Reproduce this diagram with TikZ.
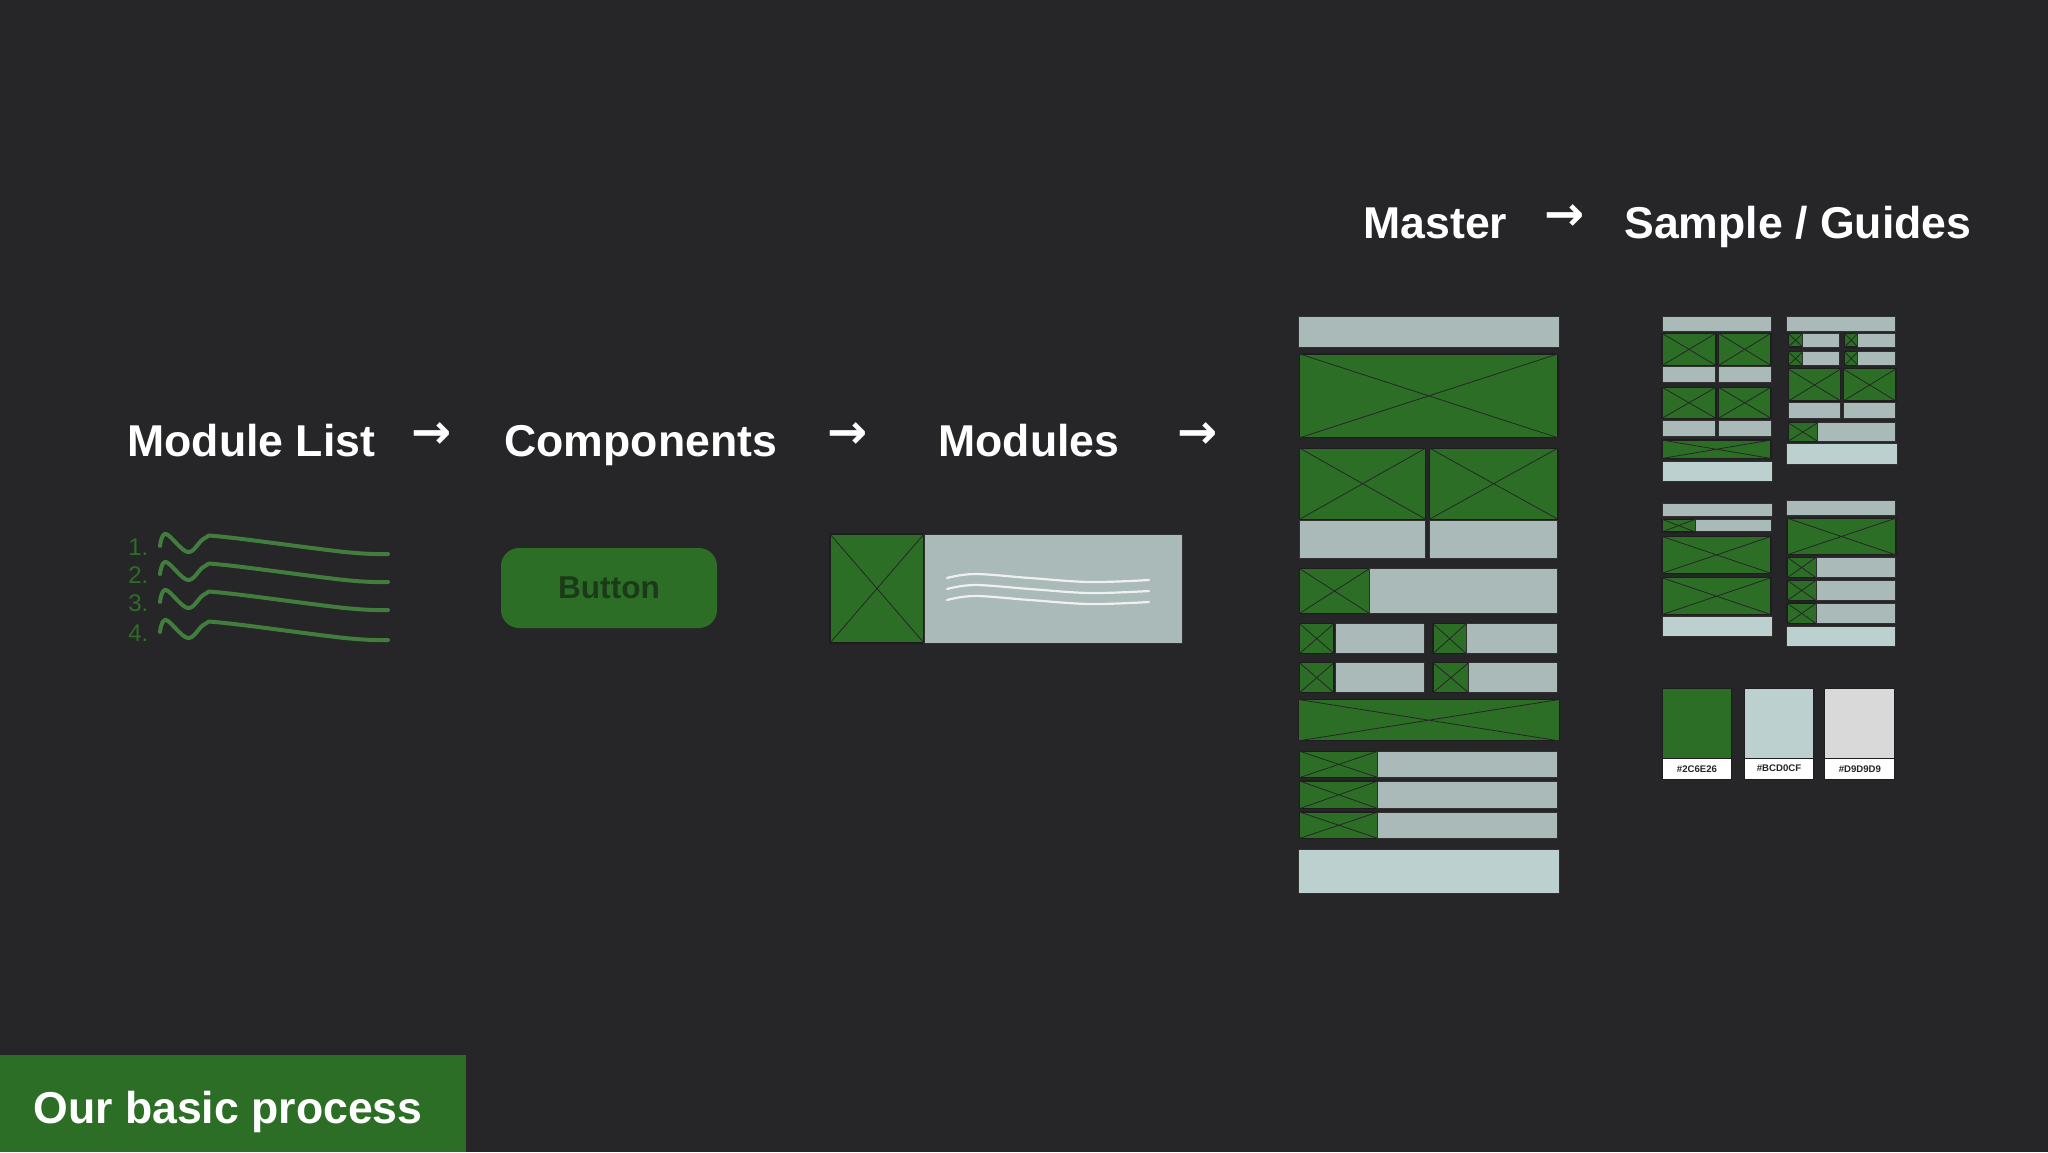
\documentclass[tikz,border=0pt]{standalone}
\usepackage{fontspec}
\setmainfont{Liberation Sans}
\newfontfamily\arrowfont{DejaVu Sans}
\definecolor{bg}{HTML}{262628}
\definecolor{grn}{HTML}{2C6E26}
\definecolor{gry}{HTML}{A9BAB8}
\definecolor{lgt}{HTML}{BCD0CF}
\definecolor{lgr}{HTML}{D9D9D9}
\definecolor{edge}{HTML}{1E1E1E}
\definecolor{btxt}{HTML}{1C3A19}
\newcommand{\myX}[4]{\draw[xs] (#1,#2) rectangle (#3,#4); \draw[xl] (#1,#2)--(#3,#4) (#1,#4)--(#3,#2);}
\newcommand{\myG}[4]{\draw[gs] (#1,#2) rectangle (#3,#4);}
\newcommand{\myL}[4]{\draw[ls] (#1,#2) rectangle (#3,#4);}
\begin{document}
\begin{tikzpicture}[x=0.5pt,y=-0.5pt,
  xs/.style={fill=grn,draw=edge,line width=0.6pt},
  xl/.style={draw=black!85,line width=0.4pt},
  gs/.style={fill=gry,draw=edge!80!gray,line width=0.5pt},
  ls/.style={fill=lgt,draw=edge!80!gray,line width=0.5pt},
  title/.style={text=white,font=\fontsize{22.3}{26}\selectfont\bfseries,anchor=base west,inner sep=0pt},
  arr/.style={text=white,font=\arrowfont\fontsize{24}{28}\selectfont\bfseries,inner sep=0pt},
  num/.style={text=grn,font=\fontsize{12}{14}\selectfont,anchor=west,inner sep=0pt},
  squig/.style={draw=grn!90!white,line width=2pt,line cap=round},
  wave/.style={draw=white!88!gray,line width=1.1pt,line cap=round},
  sw/.style={draw=edge,line width=0.5pt},
  swl/.style={text=black!85,font=\fontsize{4.8}{5}\selectfont\bfseries,inner sep=0pt}]
\fill[bg] (0,0) rectangle (2048,1152);
\useasboundingbox (0,0) rectangle (2048,1152);
% titles
\node[title] (ml) at (127,456) {Module List};
\node[arr] (a1) at (432,436) {→};
\node[title] (cp) at (504,456) {Components};
\node[arr] (a2) at (848,436) {→};
\node[title] (md) at (938,456) {Modules};
\node[arr] (a3) at (1198,436) {→};
\node[title] (ms) at (1363,238) {Master};
\node[arr] (a4) at (1565,218) {→};
\node[title] (sg) at (1624,238) {Sample / Guides};
% module list
\foreach \n/\y in {1/547,2/575,3/603,4/633}{
  \node[num] (n\n) at (128,\y) {\n.};
  \draw[squig] plot[smooth,tension=0.6] coordinates {(160,\y-1) (166,\y-13) (188,\y+5) (205,\y-9) (225,\y-10) (345,\y+5) (388,\y+7)};
}
% button
\node[fill=grn,rounded corners=9pt,minimum width=108pt,minimum height=40pt,inner sep=0pt,text=btxt,font=\fontsize{15.8}{18}\selectfont\bfseries] (btn) at (609,588) {Button};
% module
\myX{830}{534}{924}{643}
\myG{924}{534}{1182}{643}
\foreach \y in {578,589,600}{
  \draw[wave] plot[smooth,tension=0.6] coordinates {(947,\y) (975,\y-4) (1030,\y) (1090,\y+4) (1149,\y+2)};
}
\begin{scope}[shift={(1280,300)},xscale=1.2245,yscale=1.148,shift={(-1280,-300)}]
% master
\myG{1295}{314}{1508}{341}
\myX{1296}{347}{1507}{420}
\myX{1296}{429}{1399}{491}\myX{1402}{429}{1507}{491}
\myG{1296}{492}{1399}{525}\myG{1402}{492}{1507}{525}
\myX{1296}{534}{1353}{573}\myG{1353}{534}{1507}{573}
\myX{1296}{582}{1324}{608}\myG{1325}{582}{1398}{608}\myX{1405}{582}{1432}{608}\myG{1432}{582}{1507}{608}
\myX{1296}{616}{1324}{642}\myG{1325}{616}{1398}{642}\myX{1405}{616}{1434}{642}\myG{1434}{616}{1507}{642}
\myX{1295}{648}{1508}{684}
\myX{1296}{693}{1360}{716}\myG{1360}{693}{1507}{716}
\myX{1296}{719}{1360}{743}\myG{1360}{719}{1507}{743}
\myX{1296}{746}{1360}{769}\myG{1360}{746}{1507}{769}
\myL{1295}{779}{1508}{817}
% guide 1
\myG{1592}{314}{1681}{327}
\myX{1592}{329}{1636}{357}\myX{1638}{329}{1681}{357}
\myG{1592}{358}{1636}{372}\myG{1638}{358}{1681}{372}
\myX{1592}{376}{1636}{403}\myX{1638}{376}{1681}{403}
\myG{1592}{405}{1636}{419}\myG{1638}{405}{1681}{419}
\myX{1592}{422}{1681}{438}
\myL{1592}{441}{1682}{458}
% guide 2
\myG{1694}{314}{1783}{327}
\myX{1695}{329}{1707}{341}\myG{1707}{329}{1737}{341}\myX{1741}{329}{1752}{341}\myG{1752}{329}{1783}{341}
\myX{1695}{345}{1707}{357}\myG{1707}{345}{1737}{357}\myX{1741}{345}{1752}{357}\myG{1752}{345}{1783}{357}
\myX{1695}{360}{1738}{388}\myX{1740}{360}{1783}{388}
\myG{1695}{389}{1738}{403}\myG{1740}{389}{1783}{403}
\myX{1695}{407}{1719}{423}\myG{1719}{407}{1783}{423}
\myL{1694}{425}{1784}{443}
% guide 3
\myG{1592}{477}{1682}{489}
\myX{1592}{491}{1619}{502}\myG{1619}{491}{1681}{502}
\myX{1592}{506}{1681}{538}
\myX{1592}{542}{1681}{574}
\myL{1592}{576}{1682}{593}
% guide 4
\myG{1694}{475}{1783}{488}
\myX{1694}{490}{1783}{522}
\myX{1694}{524}{1718}{542}\myG{1718}{524}{1783}{542}
\myX{1694}{544}{1718}{562}\myG{1718}{544}{1783}{562}
\myX{1694}{564}{1718}{582}\myG{1718}{564}{1783}{582}
\myL{1694}{584}{1783}{602}
% swatches
\draw[sw,fill=grn] (1592,638) rectangle (1649,699);
\draw[sw,fill=white] (1592,699) rectangle (1649,718);
\node[swl] (s1) at (1620.5,709) {\#2C6E26};
\draw[sw,fill=lgt] (1659,638) rectangle (1716,699);
\draw[sw,fill=white] (1659,699) rectangle (1716,718);
\node[swl] (s2) at (1687.5,708) {\#BCD0CF};
\draw[sw,fill=lgr] (1725,638) rectangle (1782,699);
\draw[sw,fill=white] (1725,699) rectangle (1782,718);
\node[swl] (s3) at (1753.5,709) {\#D9D9D9};
\end{scope}
% footer
\fill[grn] (0,1055) rectangle (466,1152);
\node[title] (ft) at (33,1123) {Our basic process};
\end{tikzpicture}
\end{document}
